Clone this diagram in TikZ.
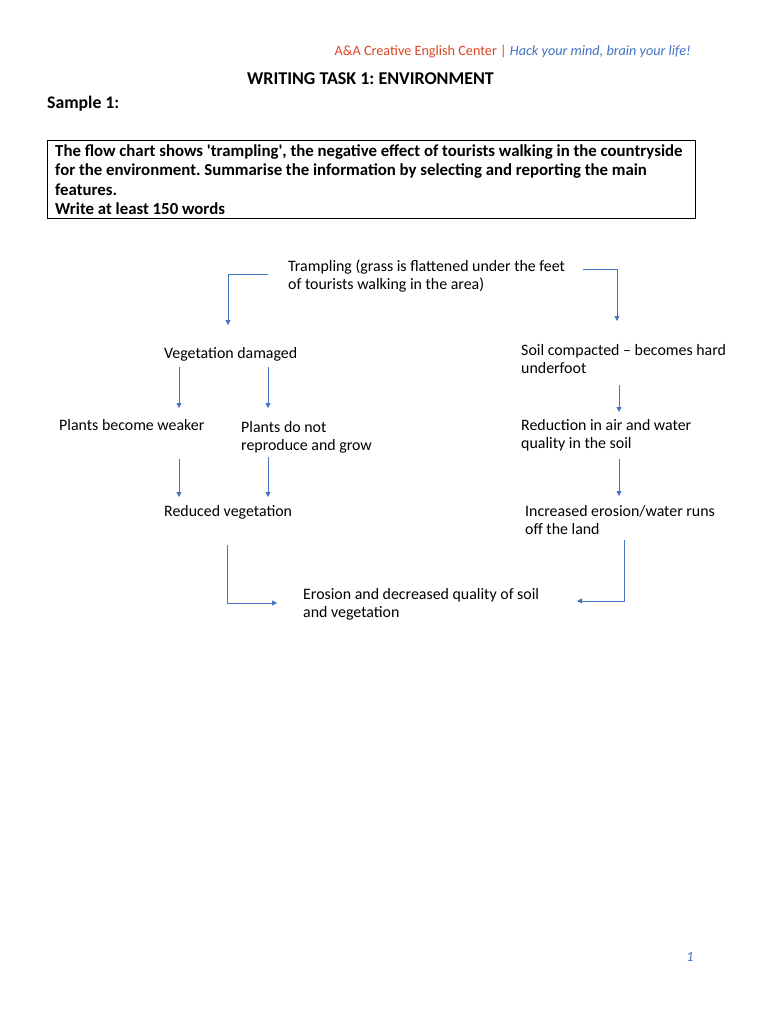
\documentclass[tikz,border=0pt]{standalone}
\usepackage{fontspec}
\setmainfont{Carlito}
\usetikzlibrary{arrows.meta}
\definecolor{hdrred}{RGB}{216,72,36}
\definecolor{hdrblue}{RGB}{68,114,196}
\definecolor{arrblue}{RGB}{68,114,196}
\tikzset{
  lbl/.style={anchor=north west, align=left, inner sep=0pt, font=\fontsize{15.9}{18.5}\selectfont},
  conn/.style={draw=arrblue, line width=0.8pt, -{Triangle[width=5pt,length=5pt]}},
}
\frenchspacing
\begin{document}
\begin{tikzpicture}[x=1pt,y=-1pt]
\useasboundingbox (0,0) rectangle (768,1024);
\fill[white] (0,0) rectangle (768,1024);

% header
\node[anchor=base east, inner sep=0pt, font=\fontsize{14.2}{17}\selectfont] (hdr) at (691,56)
  {\textcolor{hdrred}{A\&A Creative English Center |} \textcolor{hdrblue}{\itshape Hack your mind, brain your life!}};
\node[anchor=base, inner sep=0pt, font=\bfseries\fontsize{18}{20}\selectfont] (title) at (370.5,84.5) {WRITING TASK 1: ENVIRONMENT};
\node[anchor=base west, inner sep=0pt, font=\bfseries\fontsize{17.7}{20}\selectfont] (sample) at (47,108.5) {Sample 1:};

% task box
\draw[line width=0.8pt] (47,140) rectangle (695,218);
\node[anchor=north west, align=left, inner sep=0pt, font=\bfseries\fontsize{16.8}{19.5}\selectfont] (task) at (55,142.5)
  {\strut The flow chart shows \textquotesingle trampling\textquotesingle, the negative effect of tourists walking in the countryside\\
   for the environment. Summarise the information by selecting and reporting the main\\
   features.\\
   Write at least 150 words};

% flowchart text
\node[lbl] (tramp) at (288,258) {\strut Trampling (grass is flattened under the feet\\of tourists walking in the area)};
\node[lbl] (veg) at (164,345) {\strut Vegetation damaged};
\node[lbl] (weak) at (59,417) {\strut Plants become weaker};
\node[lbl] (repro) at (241,419) {\strut Plants do not\\reproduce and grow};
\node[lbl] (reduced) at (164,503) {\strut Reduced vegetation};
\node[lbl] (soil) at (521,342) {\strut Soil compacted -- becomes hard\\underfoot};
\node[lbl] (reduc) at (521,417) {\strut Reduction in air and water\\quality in the soil};
\node[lbl] (incr) at (525,503) {\strut Increased erosion/water runs\\off the land};
\node[lbl] (eros) at (303,586) {\strut Erosion and decreased quality of soil\\and vegetation};

% connector points
\coordinate (tl1) at (268,274); \coordinate (tl2) at (228,274); \coordinate (tl3) at (228,325);
\coordinate (tr1) at (583,269); \coordinate (tr2) at (617,269); \coordinate (tr3) at (617,321);
\coordinate (v1a) at (179,367); \coordinate (v1b) at (179,408);
\coordinate (v2a) at (268,367); \coordinate (v2b) at (268,408);
\coordinate (w1a) at (179,459); \coordinate (w1b) at (179,497);
\coordinate (w2a) at (268,457); \coordinate (w2b) at (268,497);
\coordinate (s1a) at (619,385); \coordinate (s1b) at (619,412);
\coordinate (s2a) at (619,459); \coordinate (s2b) at (619,496);
\coordinate (br1) at (624,540); \coordinate (br2) at (624,601); \coordinate (br3) at (577,601);
\coordinate (bl1) at (227,545); \coordinate (bl2) at (227,603); \coordinate (bl3) at (277,603);

\draw[conn] (tl1) -- (tl2) -- (tl3);
\draw[conn] (tr1) -- (tr2) -- (tr3);
\draw[conn] (v1a) -- (v1b);
\draw[conn] (v2a) -- (v2b);
\draw[conn] (w1a) -- (w1b);
\draw[conn] (w2a) -- (w2b);
\draw[conn] (s1a) -- (s1b);
\draw[conn] (s2a) -- (s2b);
\draw[conn] (br1) -- (br2) -- (br3);
\draw[conn] (bl1) -- (bl2) -- (bl3);

% page number
\node[anchor=base, inner sep=0pt, text=hdrblue, font=\itshape\fontsize{14}{16}\selectfont] (page) at (690,961) {1};
\end{tikzpicture}
\end{document}
